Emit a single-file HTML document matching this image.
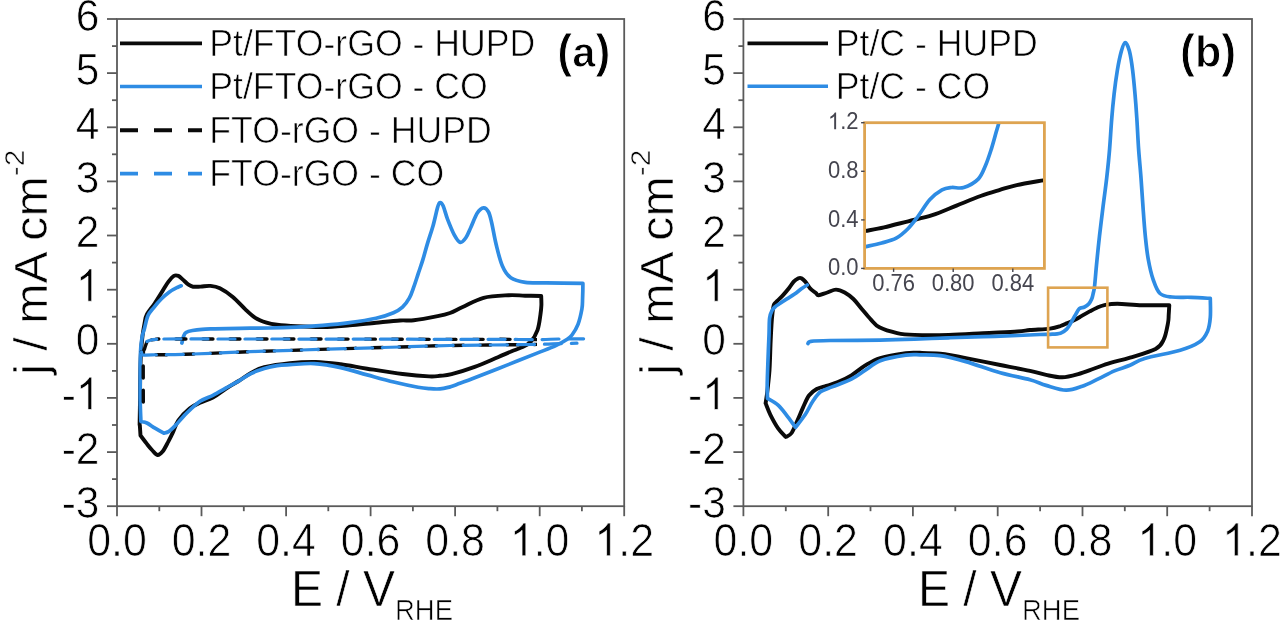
<!DOCTYPE html>
<html><head><meta charset="utf-8"><title>CV</title>
<style>html,body{margin:0;padding:0;background:#fff;}svg{display:block;filter:blur(0.45px);font-family:"Liberation Sans",sans-serif;}</style>
</head><body>
<svg width="1280" height="622" viewBox="0 0 1280 622">
<rect width="1280" height="622" fill="#fff"/>
<rect x="117.0" y="19.0" width="507.2" height="487.2" fill="none" stroke="#5a5a5a" stroke-width="1.8"/>
<line x1="107.0" y1="506.2" x2="117.0" y2="506.2" stroke="#5a5a5a" stroke-width="1.8"/>
<line x1="112.0" y1="479.1" x2="117.0" y2="479.1" stroke="#5a5a5a" stroke-width="1.8"/>
<line x1="107.0" y1="452.1" x2="117.0" y2="452.1" stroke="#5a5a5a" stroke-width="1.8"/>
<line x1="112.0" y1="425.0" x2="117.0" y2="425.0" stroke="#5a5a5a" stroke-width="1.8"/>
<line x1="107.0" y1="397.9" x2="117.0" y2="397.9" stroke="#5a5a5a" stroke-width="1.8"/>
<line x1="112.0" y1="370.9" x2="117.0" y2="370.9" stroke="#5a5a5a" stroke-width="1.8"/>
<line x1="107.0" y1="343.8" x2="117.0" y2="343.8" stroke="#5a5a5a" stroke-width="1.8"/>
<line x1="112.0" y1="316.7" x2="117.0" y2="316.7" stroke="#5a5a5a" stroke-width="1.8"/>
<line x1="107.0" y1="289.7" x2="117.0" y2="289.7" stroke="#5a5a5a" stroke-width="1.8"/>
<line x1="112.0" y1="262.6" x2="117.0" y2="262.6" stroke="#5a5a5a" stroke-width="1.8"/>
<line x1="107.0" y1="235.5" x2="117.0" y2="235.5" stroke="#5a5a5a" stroke-width="1.8"/>
<line x1="112.0" y1="208.5" x2="117.0" y2="208.5" stroke="#5a5a5a" stroke-width="1.8"/>
<line x1="107.0" y1="181.4" x2="117.0" y2="181.4" stroke="#5a5a5a" stroke-width="1.8"/>
<line x1="112.0" y1="154.3" x2="117.0" y2="154.3" stroke="#5a5a5a" stroke-width="1.8"/>
<line x1="107.0" y1="127.3" x2="117.0" y2="127.3" stroke="#5a5a5a" stroke-width="1.8"/>
<line x1="112.0" y1="100.2" x2="117.0" y2="100.2" stroke="#5a5a5a" stroke-width="1.8"/>
<line x1="107.0" y1="73.1" x2="117.0" y2="73.1" stroke="#5a5a5a" stroke-width="1.8"/>
<line x1="112.0" y1="46.1" x2="117.0" y2="46.1" stroke="#5a5a5a" stroke-width="1.8"/>
<line x1="107.0" y1="19.0" x2="117.0" y2="19.0" stroke="#5a5a5a" stroke-width="1.8"/>
<line x1="117.0" y1="506.2" x2="117.0" y2="516.2" stroke="#5a5a5a" stroke-width="1.8"/>
<line x1="159.3" y1="506.2" x2="159.3" y2="511.2" stroke="#5a5a5a" stroke-width="1.8"/>
<line x1="201.5" y1="506.2" x2="201.5" y2="516.2" stroke="#5a5a5a" stroke-width="1.8"/>
<line x1="243.8" y1="506.2" x2="243.8" y2="511.2" stroke="#5a5a5a" stroke-width="1.8"/>
<line x1="286.1" y1="506.2" x2="286.1" y2="516.2" stroke="#5a5a5a" stroke-width="1.8"/>
<line x1="328.3" y1="506.2" x2="328.3" y2="511.2" stroke="#5a5a5a" stroke-width="1.8"/>
<line x1="370.6" y1="506.2" x2="370.6" y2="516.2" stroke="#5a5a5a" stroke-width="1.8"/>
<line x1="412.9" y1="506.2" x2="412.9" y2="511.2" stroke="#5a5a5a" stroke-width="1.8"/>
<line x1="455.1" y1="506.2" x2="455.1" y2="516.2" stroke="#5a5a5a" stroke-width="1.8"/>
<line x1="497.4" y1="506.2" x2="497.4" y2="511.2" stroke="#5a5a5a" stroke-width="1.8"/>
<line x1="539.7" y1="506.2" x2="539.7" y2="516.2" stroke="#5a5a5a" stroke-width="1.8"/>
<line x1="581.9" y1="506.2" x2="581.9" y2="511.2" stroke="#5a5a5a" stroke-width="1.8"/>
<line x1="624.2" y1="506.2" x2="624.2" y2="516.2" stroke="#5a5a5a" stroke-width="1.8"/>
<g transform="translate(99.50,517.80) scale(1.000,1.060)"><text x="-37.79" y="0" font-size="42.50" font-family="Liberation Sans, sans-serif" fill="#000" stroke="#fff" stroke-width="0.70">-3</text></g>
<g transform="translate(99.50,463.67) scale(1.000,1.060)"><text x="-37.79" y="0" font-size="42.50" font-family="Liberation Sans, sans-serif" fill="#000" stroke="#fff" stroke-width="0.70">-2</text></g>
<g transform="translate(99.50,409.53) scale(1.000,1.060)"><text x="-37.79" y="0" font-size="42.50" font-family="Liberation Sans, sans-serif" fill="#000" stroke="#fff" stroke-width="0.70">- </text><path transform="translate(-23.64,0) scale(0.02075,-0.02075)" d="M763 0L583 0L583 1147Q518 1085 412.5 1023Q307 961 223 930L223 1104Q374 1175 487 1276Q600 1377 647 1472L763 1472Z" fill="#000" stroke="#fff" stroke-width="0.70" vector-effect="non-scaling-stroke"/></g>
<g transform="translate(99.50,355.40) scale(1.000,1.060)"><text x="-23.64" y="0" font-size="42.50" font-family="Liberation Sans, sans-serif" fill="#000" stroke="#fff" stroke-width="0.70">0</text></g>
<g transform="translate(99.50,301.27) scale(1.000,1.060)"><text x="-23.64" y="0" font-size="42.50" font-family="Liberation Sans, sans-serif" fill="#000" stroke="#fff" stroke-width="0.70"> </text><path transform="translate(-23.64,0) scale(0.02075,-0.02075)" d="M763 0L583 0L583 1147Q518 1085 412.5 1023Q307 961 223 930L223 1104Q374 1175 487 1276Q600 1377 647 1472L763 1472Z" fill="#000" stroke="#fff" stroke-width="0.70" vector-effect="non-scaling-stroke"/></g>
<g transform="translate(99.50,247.13) scale(1.000,1.060)"><text x="-23.64" y="0" font-size="42.50" font-family="Liberation Sans, sans-serif" fill="#000" stroke="#fff" stroke-width="0.70">2</text></g>
<g transform="translate(99.50,193.00) scale(1.000,1.060)"><text x="-23.64" y="0" font-size="42.50" font-family="Liberation Sans, sans-serif" fill="#000" stroke="#fff" stroke-width="0.70">3</text></g>
<g transform="translate(99.50,138.87) scale(1.000,1.060)"><text x="-23.64" y="0" font-size="42.50" font-family="Liberation Sans, sans-serif" fill="#000" stroke="#fff" stroke-width="0.70">4</text></g>
<g transform="translate(99.50,84.73) scale(1.000,1.060)"><text x="-23.64" y="0" font-size="42.50" font-family="Liberation Sans, sans-serif" fill="#000" stroke="#fff" stroke-width="0.70">5</text></g>
<g transform="translate(99.50,30.60) scale(1.000,1.060)"><text x="-23.64" y="0" font-size="42.50" font-family="Liberation Sans, sans-serif" fill="#000" stroke="#fff" stroke-width="0.70">6</text></g>
<g transform="translate(117.00,555.80) scale(1.010,1.070)"><text x="-29.54" y="0" font-size="42.50" font-family="Liberation Sans, sans-serif" fill="#000" stroke="#fff" stroke-width="0.70">0.0</text></g>
<g transform="translate(201.53,555.80) scale(1.010,1.070)"><text x="-29.54" y="0" font-size="42.50" font-family="Liberation Sans, sans-serif" fill="#000" stroke="#fff" stroke-width="0.70">0.2</text></g>
<g transform="translate(286.07,555.80) scale(1.010,1.070)"><text x="-29.54" y="0" font-size="42.50" font-family="Liberation Sans, sans-serif" fill="#000" stroke="#fff" stroke-width="0.70">0.4</text></g>
<g transform="translate(370.60,555.80) scale(1.010,1.070)"><text x="-29.54" y="0" font-size="42.50" font-family="Liberation Sans, sans-serif" fill="#000" stroke="#fff" stroke-width="0.70">0.6</text></g>
<g transform="translate(455.13,555.80) scale(1.010,1.070)"><text x="-29.54" y="0" font-size="42.50" font-family="Liberation Sans, sans-serif" fill="#000" stroke="#fff" stroke-width="0.70">0.8</text></g>
<g transform="translate(539.67,555.80) scale(1.010,1.070)"><text x="-29.54" y="0" font-size="42.50" font-family="Liberation Sans, sans-serif" fill="#000" stroke="#fff" stroke-width="0.70"> .0</text><path transform="translate(-29.54,0) scale(0.02075,-0.02075)" d="M763 0L583 0L583 1147Q518 1085 412.5 1023Q307 961 223 930L223 1104Q374 1175 487 1276Q600 1377 647 1472L763 1472Z" fill="#000" stroke="#fff" stroke-width="0.70" vector-effect="non-scaling-stroke"/></g>
<g transform="translate(624.20,555.80) scale(1.010,1.070)"><text x="-29.54" y="0" font-size="42.50" font-family="Liberation Sans, sans-serif" fill="#000" stroke="#fff" stroke-width="0.70"> .2</text><path transform="translate(-29.54,0) scale(0.02075,-0.02075)" d="M763 0L583 0L583 1147Q518 1085 412.5 1023Q307 961 223 930L223 1104Q374 1175 487 1276Q600 1377 647 1472L763 1472Z" fill="#000" stroke="#fff" stroke-width="0.70" vector-effect="non-scaling-stroke"/></g>
<text transform="translate(46.5,374.8) rotate(-90) scale(1.05,1)" font-size="46" font-family="Liberation Sans, sans-serif" fill="#000" stroke="#fff" stroke-width="0.6">j / mA cm<tspan font-size="28.5" dy="-22.5">-2</tspan></text>
<text transform="translate(291.0,605.8) scale(1,1.04)" font-size="48" font-family="Liberation Sans, sans-serif" fill="#000" stroke="#fff" stroke-width="0.6">E / V<tspan font-size="27.5" dy="13.2">RHE</tspan></text>
<path d="M139.6,425.0 C139.7,420.8 139.9,408.8 140.0,400.0 C140.1,391.2 140.1,380.0 140.3,372.0 C140.5,364.0 140.6,358.0 141.0,352.0 C141.4,346.0 141.9,340.8 142.5,336.0 C143.1,331.2 143.9,326.6 144.6,323.0 C145.3,319.4 145.2,317.8 146.9,314.5 C148.6,311.2 152.2,307.2 154.8,303.3 C157.4,299.4 160.3,294.5 162.6,290.9 C164.8,287.3 166.4,284.4 168.3,281.9 C170.2,279.4 172.2,276.9 173.9,275.9 C175.6,274.9 176.9,275.3 178.4,275.9 C179.9,276.5 181.2,278.1 182.9,279.6 C184.6,281.1 186.8,283.5 188.5,284.7 C190.2,285.9 191.0,286.4 193.0,286.7 C195.0,287.0 197.7,286.7 200.6,286.6 C203.5,286.5 207.0,285.6 210.2,285.9 C213.4,286.2 216.1,286.4 219.9,288.3 C223.7,290.2 228.5,293.4 232.8,297.0 C237.1,300.6 241.8,306.1 245.6,309.6 C249.3,313.1 251.8,315.6 255.3,317.8 C258.8,320.0 262.9,321.4 266.5,322.6 C270.1,323.8 272.0,324.2 277.0,324.8 C282.0,325.4 288.8,325.9 296.5,326.3 C304.2,326.7 314.1,327.2 323.0,327.1 C331.9,327.0 340.8,326.1 349.6,325.4 C358.4,324.7 367.6,323.5 376.0,322.7 C384.4,321.9 393.7,320.9 400.0,320.5 C406.3,320.1 407.5,321.0 413.8,320.3 C420.1,319.6 431.6,317.4 437.6,316.2 C443.6,315.0 445.8,314.5 450.0,313.0 C454.2,311.5 457.1,309.5 462.7,307.0 C468.3,304.5 475.9,299.8 483.6,297.8 C491.3,295.8 501.8,295.6 508.7,295.2 C515.6,294.8 519.6,295.6 525.0,295.7 C530.4,295.8 538.5,295.9 541.2,296.0 C541.2,297.5 541.5,301.8 541.4,305.0 C541.3,308.2 541.0,310.8 540.4,315.0 C539.8,319.2 539.1,325.7 537.5,330.2 C535.9,334.7 533.4,338.9 530.7,341.8 C528.0,344.7 524.3,346.0 521.1,347.6 C517.9,349.2 515.6,349.7 511.7,351.3 C507.8,352.9 504.1,354.6 497.9,357.2 C491.7,359.8 482.4,364.1 474.7,366.9 C467.0,369.7 457.4,372.7 451.6,374.2 C445.8,375.7 443.8,375.4 440.0,375.8 C436.2,376.2 435.3,376.7 429.1,376.4 C422.9,376.1 412.9,375.3 402.6,374.0 C392.3,372.7 377.5,370.3 367.2,368.7 C356.9,367.1 349.3,365.4 340.7,364.3 C332.1,363.2 324.1,362.1 315.7,361.9 C307.2,361.7 298.6,362.2 290.0,363.1 C281.4,364.0 270.8,365.6 264.3,367.2 C257.8,368.8 255.3,370.7 251.0,373.0 C246.7,375.3 242.8,378.4 238.6,381.0 C234.4,383.6 230.0,386.0 225.7,388.8 C221.4,391.6 217.2,395.3 212.9,397.6 C208.6,399.9 203.9,401.0 200.0,402.8 C196.1,404.6 193.2,405.5 189.6,408.4 C186.0,411.3 181.2,416.3 178.4,420.3 C175.6,424.3 174.5,429.1 172.8,432.6 C171.1,436.2 170.0,438.4 168.3,441.6 C166.6,444.8 164.4,449.4 162.6,451.6 C160.8,453.8 159.3,455.3 157.5,455.0 C155.7,454.7 153.8,451.9 152.0,450.0 C150.2,448.1 148.8,446.3 146.9,443.9 C145.0,441.5 141.6,436.9 140.5,435.5 C140.4,433.8 139.9,426.8 139.8,425.0" fill="none" stroke="#0a0a0a" stroke-width="3.90" stroke-linejoin="round" stroke-linecap="round" />
<path d="M181.9,343.0 C182.2,341.9 182.8,338.2 183.5,336.5 C184.2,334.8 184.5,333.5 186.0,332.5 C187.5,331.5 189.8,331.0 192.5,330.5 C195.2,330.0 198.3,329.6 202.1,329.3 C205.8,329.0 208.7,329.0 215.0,328.8 C221.3,328.6 230.8,328.4 240.0,328.3 C249.2,328.2 260.6,328.2 270.0,328.0 C279.4,327.8 287.7,327.5 296.5,327.1 C305.3,326.7 314.1,326.1 323.0,325.4 C331.9,324.7 340.8,323.9 349.6,322.7 C358.4,321.5 368.7,319.9 376.0,318.3 C383.3,316.7 389.1,314.7 393.5,312.8 C397.9,310.9 399.9,309.6 402.5,307.2 C405.1,304.8 407.4,301.6 409.3,298.2 C411.2,294.8 412.3,291.0 413.8,286.9 C415.3,282.8 416.8,277.9 418.3,273.4 C419.8,268.9 421.3,264.8 422.8,259.9 C424.3,255.0 425.6,249.8 427.3,244.1 C429.0,238.4 431.3,231.9 433.0,226.0 C434.7,220.1 436.2,212.4 437.3,208.5 C438.4,204.6 438.7,203.0 439.7,202.6 C440.7,202.2 441.8,203.0 443.1,205.8 C444.4,208.6 445.7,214.4 447.6,219.3 C449.5,224.2 452.3,231.2 454.4,235.1 C456.5,238.9 458.4,242.0 460.3,242.4 C462.2,242.8 464.2,240.1 466.0,237.5 C467.8,234.9 469.1,231.1 471.0,227.0 C472.9,222.9 475.2,216.2 477.3,213.0 C479.4,209.8 481.7,208.0 483.6,207.8 C485.5,207.6 487.2,209.6 488.5,212.0 C489.8,214.4 490.2,216.6 491.5,222.0 C492.8,227.4 494.3,237.0 496.1,244.3 C497.9,251.6 499.9,260.4 502.4,266.0 C504.8,271.6 507.0,275.1 510.8,277.8 C514.6,280.5 519.5,281.5 525.4,282.4 C531.3,283.2 536.7,282.7 546.3,282.9 C555.9,283.1 576.8,283.3 582.9,283.4 C582.9,285.8 582.8,293.7 582.6,298.0 C582.4,302.3 582.7,304.6 581.9,309.0 C581.1,313.4 579.6,320.1 578.0,324.4 C576.4,328.7 573.9,332.4 572.0,335.0 C570.1,337.6 569.1,338.0 566.4,339.8 C563.7,341.6 560.8,343.3 555.8,345.6 C550.8,347.9 544.5,350.2 536.5,353.4 C528.5,356.6 517.2,361.1 507.6,364.9 C498.0,368.7 486.5,373.2 478.6,376.3 C470.7,379.4 465.1,381.5 460.0,383.3 C454.9,385.1 451.3,386.5 448.0,387.4 C444.7,388.3 443.0,388.7 440.0,388.9 C437.0,389.1 433.7,389.0 430.0,388.7 C426.3,388.4 424.0,388.3 418.0,387.2 C412.0,386.1 402.3,384.1 393.8,382.0 C385.3,379.9 376.1,377.3 367.2,374.9 C358.3,372.5 349.5,369.5 340.7,367.6 C331.9,365.7 322.6,364.1 314.2,363.6 C305.8,363.1 296.2,364.4 290.0,364.7 C283.8,365.0 281.4,365.0 277.1,365.7 C272.8,366.4 268.6,367.3 264.3,368.6 C260.0,369.9 255.7,371.3 251.4,373.4 C247.1,375.5 242.9,378.6 238.6,381.1 C234.3,383.6 230.0,385.8 225.7,388.2 C221.4,390.6 217.2,393.1 212.9,395.3 C208.6,397.5 204.4,398.3 200.0,401.3 C195.6,404.3 190.5,409.4 186.3,413.5 C182.1,417.6 178.0,422.9 175.0,425.9 C172.0,428.9 170.4,430.4 168.5,431.6 C166.6,432.8 164.6,432.9 163.8,433.2 C162.3,432.4 157.8,429.9 155.0,428.2 C152.2,426.5 149.2,424.1 146.9,423.0 C144.6,421.9 141.9,421.8 140.9,421.5 C140.8,417.9 140.3,408.6 140.2,400.0 C140.1,391.4 140.2,377.2 140.2,370.0 C140.2,362.8 140.3,360.8 140.4,357.0 C140.5,353.2 140.5,351.0 140.8,347.5 C141.1,344.0 141.7,339.2 142.3,336.0 C142.9,332.8 143.7,331.4 144.6,328.0 C145.5,324.6 146.5,319.0 148.0,315.6 C149.5,312.2 151.3,310.6 153.6,307.8 C155.8,305.0 158.9,301.4 161.5,298.8 C164.1,296.2 166.8,293.9 169.4,292.0 C172.0,290.1 175.3,288.5 177.3,287.5 C179.3,286.5 180.5,286.1 181.2,285.8" fill="none" stroke="#2e8ce4" stroke-width="3.70" stroke-linejoin="round" stroke-linecap="round" />
<path d="M143.3,402.0 C143.3,394.3 143.1,364.8 143.3,356.0 C143.5,347.2 143.9,351.4 144.5,349.0 C145.1,346.6 146.6,342.8 147.0,341.5" fill="none" stroke="#0a0a0a" stroke-width="3.40" stroke-linejoin="round" stroke-linecap="round" stroke-dasharray="12 12" stroke-linecap="butt"/>
<clipPath id="bk"><rect x="100" y="300" width="437" height="120"/></clipPath>
<g clip-path="url(#bk)">
<path d="M147.0,341.5 C147.7,341.2 149.3,340.4 151.0,340.0 C152.7,339.6 154.7,339.5 157.0,339.3 C159.3,339.1 149.5,339.1 165.0,339.0 C180.5,338.9 210.8,339.0 250.0,339.0 C289.2,339.0 366.7,339.1 400.0,339.2 C433.3,339.3 433.3,339.4 450.0,339.4 C466.7,339.4 485.7,339.3 500.0,339.3 C514.3,339.3 526.0,339.7 536.0,339.6 C546.0,339.6 552.1,339.1 560.0,339.0 C567.9,338.9 579.7,338.8 583.6,338.8" fill="none" stroke="#0a0a0a" stroke-width="3.40" stroke-linejoin="round" stroke-linecap="round" stroke-dasharray="10 17" stroke-dashoffset="-5" stroke-linecap="butt"/>
<path d="M141.5,352.0 C141.8,352.5 141.2,354.5 143.0,355.0 C144.8,355.5 145.0,354.9 152.0,354.8 C159.0,354.7 168.7,354.8 185.0,354.3 C201.3,353.8 227.5,352.5 250.0,351.7 C272.5,350.9 295.0,350.2 320.0,349.4 C345.0,348.6 378.3,347.6 400.0,347.0 C421.7,346.4 428.2,345.9 450.0,345.5 C471.8,345.1 512.7,344.8 531.0,344.5 C549.3,344.2 552.3,343.8 560.0,343.6 C567.7,343.4 574.2,343.3 577.0,343.2" fill="none" stroke="#0a0a0a" stroke-width="3.40" stroke-linejoin="round" stroke-linecap="round" stroke-dasharray="11 16" stroke-dashoffset="-16.5" stroke-linecap="butt"/>
</g>
<path d="M147.0,341.5 C147.7,341.2 149.3,340.4 151.0,340.0 C152.7,339.6 154.7,339.5 157.0,339.3 C159.3,339.1 149.5,339.1 165.0,339.0 C180.5,338.9 210.8,339.0 250.0,339.0 C289.2,339.0 366.7,339.1 400.0,339.2 C433.3,339.3 433.3,339.4 450.0,339.4 C466.7,339.4 485.7,339.3 500.0,339.3 C514.3,339.3 526.0,339.7 536.0,339.6 C546.0,339.6 552.1,339.1 560.0,339.0 C567.9,338.9 579.7,338.8 583.6,338.8" fill="none" stroke="#2e8ce4" stroke-width="3.20" stroke-linejoin="round" stroke-linecap="round" stroke-dasharray="17 10" stroke-dashoffset="-20" stroke-linecap="butt"/>
<path d="M141.5,352.0 C141.8,352.5 141.2,354.5 143.0,355.0 C144.8,355.5 145.0,354.9 152.0,354.8 C159.0,354.7 168.7,354.8 185.0,354.3 C201.3,353.8 227.5,352.5 250.0,351.7 C272.5,350.9 295.0,350.2 320.0,349.4 C345.0,348.6 378.3,347.6 400.0,347.0 C421.7,346.4 428.2,345.9 450.0,345.5 C471.8,345.1 512.7,344.8 531.0,344.5 C549.3,344.2 552.3,343.8 560.0,343.6 C567.7,343.4 574.2,343.3 577.0,343.2" fill="none" stroke="#2e8ce4" stroke-width="3.20" stroke-linejoin="round" stroke-linecap="round" stroke-dasharray="17 10" stroke-linecap="butt"/>
<line x1="120" y1="43.4" x2="202" y2="43.4" stroke="#0a0a0a" stroke-width="3.7"/>
<line x1="120" y1="86.5" x2="202" y2="86.5" stroke="#2e8ce4" stroke-width="3.6"/>
<line x1="120" y1="130.3" x2="202" y2="130.3" stroke="#0a0a0a" stroke-width="4" stroke-dasharray="18 16"/>
<line x1="120" y1="173.6" x2="202" y2="173.6" stroke="#2e8ce4" stroke-width="3.6" stroke-dasharray="18 16"/>
<text transform="translate(209.3,56.1) scale(0.99,1.03)" font-size="36" font-family="Liberation Sans, sans-serif" fill="#000" stroke="#fff" stroke-width="0.7">Pt/FTO-rGO - HUPD</text>
<text transform="translate(209.3,99.4) scale(0.99,1.03)" font-size="36" font-family="Liberation Sans, sans-serif" fill="#000" stroke="#fff" stroke-width="0.7">Pt/FTO-rGO - CO</text>
<text transform="translate(209.3,142.7) scale(0.99,1.03)" font-size="36" font-family="Liberation Sans, sans-serif" fill="#000" stroke="#fff" stroke-width="0.7">FTO-rGO - HUPD</text>
<text transform="translate(209.3,186.0) scale(0.99,1.03)" font-size="36" font-family="Liberation Sans, sans-serif" fill="#000" stroke="#fff" stroke-width="0.7">FTO-rGO - CO</text>
<text transform="translate(557.3,67) scale(1.03,1.05)" font-size="43.5" font-weight="bold" font-family="Liberation Sans, sans-serif" fill="#000" stroke="#fff" stroke-width="0.9">(<tspan font-size="40.5">a</tspan>)</text>
<rect x="743.4" y="19.0" width="508.6" height="487.2" fill="none" stroke="#5a5a5a" stroke-width="1.8"/>
<line x1="733.4" y1="506.2" x2="743.4" y2="506.2" stroke="#5a5a5a" stroke-width="1.8"/>
<line x1="738.4" y1="479.1" x2="743.4" y2="479.1" stroke="#5a5a5a" stroke-width="1.8"/>
<line x1="733.4" y1="452.1" x2="743.4" y2="452.1" stroke="#5a5a5a" stroke-width="1.8"/>
<line x1="738.4" y1="425.0" x2="743.4" y2="425.0" stroke="#5a5a5a" stroke-width="1.8"/>
<line x1="733.4" y1="397.9" x2="743.4" y2="397.9" stroke="#5a5a5a" stroke-width="1.8"/>
<line x1="738.4" y1="370.9" x2="743.4" y2="370.9" stroke="#5a5a5a" stroke-width="1.8"/>
<line x1="733.4" y1="343.8" x2="743.4" y2="343.8" stroke="#5a5a5a" stroke-width="1.8"/>
<line x1="738.4" y1="316.7" x2="743.4" y2="316.7" stroke="#5a5a5a" stroke-width="1.8"/>
<line x1="733.4" y1="289.7" x2="743.4" y2="289.7" stroke="#5a5a5a" stroke-width="1.8"/>
<line x1="738.4" y1="262.6" x2="743.4" y2="262.6" stroke="#5a5a5a" stroke-width="1.8"/>
<line x1="733.4" y1="235.5" x2="743.4" y2="235.5" stroke="#5a5a5a" stroke-width="1.8"/>
<line x1="738.4" y1="208.5" x2="743.4" y2="208.5" stroke="#5a5a5a" stroke-width="1.8"/>
<line x1="733.4" y1="181.4" x2="743.4" y2="181.4" stroke="#5a5a5a" stroke-width="1.8"/>
<line x1="738.4" y1="154.3" x2="743.4" y2="154.3" stroke="#5a5a5a" stroke-width="1.8"/>
<line x1="733.4" y1="127.3" x2="743.4" y2="127.3" stroke="#5a5a5a" stroke-width="1.8"/>
<line x1="738.4" y1="100.2" x2="743.4" y2="100.2" stroke="#5a5a5a" stroke-width="1.8"/>
<line x1="733.4" y1="73.1" x2="743.4" y2="73.1" stroke="#5a5a5a" stroke-width="1.8"/>
<line x1="738.4" y1="46.1" x2="743.4" y2="46.1" stroke="#5a5a5a" stroke-width="1.8"/>
<line x1="733.4" y1="19.0" x2="743.4" y2="19.0" stroke="#5a5a5a" stroke-width="1.8"/>
<line x1="743.4" y1="506.2" x2="743.4" y2="516.2" stroke="#5a5a5a" stroke-width="1.8"/>
<line x1="785.8" y1="506.2" x2="785.8" y2="511.2" stroke="#5a5a5a" stroke-width="1.8"/>
<line x1="828.2" y1="506.2" x2="828.2" y2="516.2" stroke="#5a5a5a" stroke-width="1.8"/>
<line x1="870.5" y1="506.2" x2="870.5" y2="511.2" stroke="#5a5a5a" stroke-width="1.8"/>
<line x1="912.9" y1="506.2" x2="912.9" y2="516.2" stroke="#5a5a5a" stroke-width="1.8"/>
<line x1="955.3" y1="506.2" x2="955.3" y2="511.2" stroke="#5a5a5a" stroke-width="1.8"/>
<line x1="997.7" y1="506.2" x2="997.7" y2="516.2" stroke="#5a5a5a" stroke-width="1.8"/>
<line x1="1040.1" y1="506.2" x2="1040.1" y2="511.2" stroke="#5a5a5a" stroke-width="1.8"/>
<line x1="1082.5" y1="506.2" x2="1082.5" y2="516.2" stroke="#5a5a5a" stroke-width="1.8"/>
<line x1="1124.8" y1="506.2" x2="1124.8" y2="511.2" stroke="#5a5a5a" stroke-width="1.8"/>
<line x1="1167.2" y1="506.2" x2="1167.2" y2="516.2" stroke="#5a5a5a" stroke-width="1.8"/>
<line x1="1209.6" y1="506.2" x2="1209.6" y2="511.2" stroke="#5a5a5a" stroke-width="1.8"/>
<line x1="1252.0" y1="506.2" x2="1252.0" y2="516.2" stroke="#5a5a5a" stroke-width="1.8"/>
<g transform="translate(725.90,517.80) scale(1.000,1.060)"><text x="-37.79" y="0" font-size="42.50" font-family="Liberation Sans, sans-serif" fill="#000" stroke="#fff" stroke-width="0.70">-3</text></g>
<g transform="translate(725.90,463.67) scale(1.000,1.060)"><text x="-37.79" y="0" font-size="42.50" font-family="Liberation Sans, sans-serif" fill="#000" stroke="#fff" stroke-width="0.70">-2</text></g>
<g transform="translate(725.90,409.53) scale(1.000,1.060)"><text x="-37.79" y="0" font-size="42.50" font-family="Liberation Sans, sans-serif" fill="#000" stroke="#fff" stroke-width="0.70">- </text><path transform="translate(-23.64,0) scale(0.02075,-0.02075)" d="M763 0L583 0L583 1147Q518 1085 412.5 1023Q307 961 223 930L223 1104Q374 1175 487 1276Q600 1377 647 1472L763 1472Z" fill="#000" stroke="#fff" stroke-width="0.70" vector-effect="non-scaling-stroke"/></g>
<g transform="translate(725.90,355.40) scale(1.000,1.060)"><text x="-23.64" y="0" font-size="42.50" font-family="Liberation Sans, sans-serif" fill="#000" stroke="#fff" stroke-width="0.70">0</text></g>
<g transform="translate(725.90,301.27) scale(1.000,1.060)"><text x="-23.64" y="0" font-size="42.50" font-family="Liberation Sans, sans-serif" fill="#000" stroke="#fff" stroke-width="0.70"> </text><path transform="translate(-23.64,0) scale(0.02075,-0.02075)" d="M763 0L583 0L583 1147Q518 1085 412.5 1023Q307 961 223 930L223 1104Q374 1175 487 1276Q600 1377 647 1472L763 1472Z" fill="#000" stroke="#fff" stroke-width="0.70" vector-effect="non-scaling-stroke"/></g>
<g transform="translate(725.90,247.13) scale(1.000,1.060)"><text x="-23.64" y="0" font-size="42.50" font-family="Liberation Sans, sans-serif" fill="#000" stroke="#fff" stroke-width="0.70">2</text></g>
<g transform="translate(725.90,193.00) scale(1.000,1.060)"><text x="-23.64" y="0" font-size="42.50" font-family="Liberation Sans, sans-serif" fill="#000" stroke="#fff" stroke-width="0.70">3</text></g>
<g transform="translate(725.90,138.87) scale(1.000,1.060)"><text x="-23.64" y="0" font-size="42.50" font-family="Liberation Sans, sans-serif" fill="#000" stroke="#fff" stroke-width="0.70">4</text></g>
<g transform="translate(725.90,84.73) scale(1.000,1.060)"><text x="-23.64" y="0" font-size="42.50" font-family="Liberation Sans, sans-serif" fill="#000" stroke="#fff" stroke-width="0.70">5</text></g>
<g transform="translate(725.90,30.60) scale(1.000,1.060)"><text x="-23.64" y="0" font-size="42.50" font-family="Liberation Sans, sans-serif" fill="#000" stroke="#fff" stroke-width="0.70">6</text></g>
<g transform="translate(743.40,555.80) scale(1.010,1.070)"><text x="-29.54" y="0" font-size="42.50" font-family="Liberation Sans, sans-serif" fill="#000" stroke="#fff" stroke-width="0.70">0.0</text></g>
<g transform="translate(828.17,555.80) scale(1.010,1.070)"><text x="-29.54" y="0" font-size="42.50" font-family="Liberation Sans, sans-serif" fill="#000" stroke="#fff" stroke-width="0.70">0.2</text></g>
<g transform="translate(912.93,555.80) scale(1.010,1.070)"><text x="-29.54" y="0" font-size="42.50" font-family="Liberation Sans, sans-serif" fill="#000" stroke="#fff" stroke-width="0.70">0.4</text></g>
<g transform="translate(997.70,555.80) scale(1.010,1.070)"><text x="-29.54" y="0" font-size="42.50" font-family="Liberation Sans, sans-serif" fill="#000" stroke="#fff" stroke-width="0.70">0.6</text></g>
<g transform="translate(1082.47,555.80) scale(1.010,1.070)"><text x="-29.54" y="0" font-size="42.50" font-family="Liberation Sans, sans-serif" fill="#000" stroke="#fff" stroke-width="0.70">0.8</text></g>
<g transform="translate(1167.23,555.80) scale(1.010,1.070)"><text x="-29.54" y="0" font-size="42.50" font-family="Liberation Sans, sans-serif" fill="#000" stroke="#fff" stroke-width="0.70"> .0</text><path transform="translate(-29.54,0) scale(0.02075,-0.02075)" d="M763 0L583 0L583 1147Q518 1085 412.5 1023Q307 961 223 930L223 1104Q374 1175 487 1276Q600 1377 647 1472L763 1472Z" fill="#000" stroke="#fff" stroke-width="0.70" vector-effect="non-scaling-stroke"/></g>
<g transform="translate(1252.00,555.80) scale(1.010,1.070)"><text x="-29.54" y="0" font-size="42.50" font-family="Liberation Sans, sans-serif" fill="#000" stroke="#fff" stroke-width="0.70"> .2</text><path transform="translate(-29.54,0) scale(0.02075,-0.02075)" d="M763 0L583 0L583 1147Q518 1085 412.5 1023Q307 961 223 930L223 1104Q374 1175 487 1276Q600 1377 647 1472L763 1472Z" fill="#000" stroke="#fff" stroke-width="0.70" vector-effect="non-scaling-stroke"/></g>
<text transform="translate(672.5,374.8) rotate(-90) scale(1.05,1)" font-size="46" font-family="Liberation Sans, sans-serif" fill="#000" stroke="#fff" stroke-width="0.6">j / mA cm<tspan font-size="28.5" dy="-22.5">-2</tspan></text>
<text transform="translate(918.0,605.8) scale(1,1.04)" font-size="48" font-family="Liberation Sans, sans-serif" fill="#000" stroke="#fff" stroke-width="0.6">E / V<tspan font-size="27.5" dy="13.2">RHE</tspan></text>
<path d="M765.6,403.3 C765.9,401.1 766.9,395.6 767.5,390.0 C768.1,384.4 769.0,377.5 769.5,370.0 C770.0,362.5 770.2,352.5 770.5,345.0 C770.8,337.5 771.2,330.3 771.5,325.0 C771.8,319.7 772.1,316.4 772.5,313.0 C772.9,309.6 773.2,306.5 774.0,304.5 C774.8,302.5 775.8,302.5 777.3,300.9 C778.8,299.3 781.2,297.2 783.1,295.1 C785.0,293.0 787.1,290.6 788.9,288.3 C790.7,286.1 792.1,283.3 793.7,281.6 C795.3,279.9 797.2,278.8 798.5,278.2 C799.8,277.6 800.3,277.6 801.4,278.2 C802.5,278.8 803.8,279.9 805.3,281.6 C806.8,283.3 808.3,286.4 810.1,288.3 C811.9,290.2 814.5,291.9 815.9,293.1 C817.3,294.3 816.7,295.4 818.6,295.3 C820.5,295.2 824.4,293.4 827.3,292.5 C830.2,291.6 833.1,289.6 836.0,289.6 C838.9,289.6 841.8,290.9 844.7,292.5 C847.6,294.1 850.5,296.2 853.4,299.0 C856.3,301.8 859.1,305.8 862.0,309.2 C864.9,312.6 867.8,316.3 870.7,319.3 C873.6,322.3 875.0,325.0 879.4,327.3 C883.8,329.6 891.4,331.8 897.2,333.1 C903.0,334.4 905.8,334.6 914.4,334.9 C923.0,335.2 937.3,335.2 948.8,334.9 C960.2,334.6 971.6,333.8 983.1,333.2 C994.6,332.6 1009.7,332.0 1017.5,331.5 C1025.3,331.0 1024.6,330.5 1030.0,330.0 C1035.4,329.5 1044.9,329.3 1050.0,328.6 C1055.1,327.9 1057.7,326.9 1060.5,326.0 C1063.3,325.1 1064.5,324.4 1066.7,323.4 C1069.0,322.4 1071.5,321.4 1074.0,320.2 C1076.5,319.0 1078.8,317.6 1081.4,316.1 C1084.0,314.6 1087.1,312.8 1089.7,311.4 C1092.3,310.0 1094.5,308.8 1097.0,307.7 C1099.5,306.6 1101.0,305.8 1104.4,305.1 C1107.8,304.5 1111.0,303.8 1117.3,303.8 C1123.6,303.8 1133.3,305.0 1142.0,305.2 C1150.7,305.4 1164.8,305.2 1169.3,305.2 C1169.2,306.8 1168.9,312.0 1168.7,315.0 C1168.5,318.0 1168.8,318.9 1168.0,323.0 C1167.2,327.1 1165.9,335.1 1163.8,339.4 C1161.7,343.7 1161.2,346.0 1155.6,349.0 C1150.0,352.0 1137.5,355.3 1130.0,357.6 C1122.5,359.9 1116.4,361.1 1110.4,362.9 C1104.5,364.7 1099.7,366.6 1094.3,368.5 C1088.9,370.4 1083.5,372.6 1078.2,374.1 C1072.9,375.6 1067.6,377.2 1062.2,377.3 C1056.8,377.4 1051.5,376.0 1046.1,374.9 C1040.7,373.8 1037.6,372.5 1030.0,370.9 C1022.4,369.2 1011.0,367.1 1000.3,365.0 C989.6,362.9 975.9,360.0 965.9,358.1 C955.9,356.2 947.9,354.7 940.2,353.8 C932.6,352.9 925.7,352.9 920.0,352.8 C914.3,352.7 912.4,352.2 905.8,353.1 C899.2,354.0 887.1,355.9 880.3,358.0 C873.5,360.1 869.7,362.8 864.9,365.7 C860.1,368.6 855.9,372.6 851.4,375.3 C846.9,378.0 842.1,380.3 837.9,382.1 C833.7,383.9 829.8,384.8 826.3,385.9 C822.8,387.0 819.6,387.4 816.7,389.0 C813.8,390.6 811.2,392.5 809.0,395.5 C806.8,398.5 805.1,402.9 803.2,407.1 C801.3,411.3 799.3,416.3 797.4,420.6 C795.5,424.9 793.5,430.3 791.6,433.0 C789.7,435.7 786.8,436.3 785.8,437.0 C784.5,435.6 780.7,432.0 778.1,428.3 C775.5,424.6 772.5,419.0 770.4,414.8 C768.3,410.6 766.4,405.2 765.6,403.3" fill="none" stroke="#0a0a0a" stroke-width="3.90" stroke-linejoin="round" stroke-linecap="round" />
<path d="M808.0,343.5 C808.5,343.1 807.3,341.8 811.0,341.3 C814.7,340.8 818.5,340.7 830.0,340.5 C841.5,340.3 865.9,340.3 880.0,340.1 C894.1,339.9 902.9,339.6 914.4,339.2 C925.9,338.8 937.3,338.2 948.8,337.8 C960.2,337.4 971.6,337.1 983.1,336.7 C994.6,336.3 1008.0,335.9 1017.5,335.5 C1027.0,335.1 1034.6,334.7 1040.0,334.5 C1045.4,334.3 1046.6,334.5 1050.0,334.3 C1053.4,334.1 1057.7,334.1 1060.5,333.2 C1063.3,332.3 1065.0,330.8 1066.7,329.1 C1068.4,327.4 1069.5,325.2 1070.9,322.9 C1072.3,320.6 1073.7,317.9 1075.1,315.5 C1076.5,313.1 1077.7,310.1 1079.3,308.7 C1080.9,307.3 1082.9,307.8 1084.5,307.0 C1086.1,306.2 1087.5,305.4 1088.7,304.0 C1089.9,302.6 1091.0,300.7 1091.8,298.8 C1092.6,296.9 1092.9,294.6 1093.4,292.5 C1093.9,290.4 1094.1,290.6 1094.6,286.0 C1095.1,281.4 1095.7,273.3 1096.5,265.0 C1097.3,256.7 1098.4,245.7 1099.5,236.0 C1100.6,226.3 1101.8,216.7 1103.0,207.0 C1104.2,197.3 1105.6,187.7 1106.7,178.0 C1107.8,168.3 1108.8,159.0 1109.6,149.0 C1110.4,139.0 1111.0,127.2 1111.8,118.0 C1112.5,108.8 1113.2,102.0 1114.1,94.0 C1115.0,86.0 1116.2,77.2 1117.4,70.0 C1118.6,62.8 1120.1,55.6 1121.4,51.0 C1122.7,46.4 1123.9,42.6 1125.2,42.6 C1126.5,42.6 1128.2,46.4 1129.4,51.0 C1130.6,55.6 1131.7,62.8 1132.6,70.0 C1133.5,77.2 1134.3,86.0 1135.0,94.0 C1135.7,102.0 1136.2,108.8 1136.8,118.0 C1137.4,127.2 1137.9,139.0 1138.6,149.0 C1139.3,159.0 1140.3,168.3 1141.0,178.0 C1141.7,187.7 1142.3,197.3 1143.0,207.0 C1143.7,216.7 1144.4,227.3 1145.3,236.0 C1146.2,244.7 1146.9,251.8 1148.2,259.0 C1149.5,266.2 1151.1,273.6 1153.1,279.4 C1155.1,285.1 1156.8,290.6 1160.0,293.5 C1163.2,296.4 1166.8,296.4 1172.0,297.0 C1177.2,297.6 1184.8,297.1 1191.2,297.3 C1197.6,297.5 1207.1,298.2 1210.3,298.4 C1210.3,301.6 1210.8,312.0 1210.3,317.5 C1209.8,323.0 1209.4,327.1 1207.6,331.2 C1205.8,335.3 1204.0,338.9 1199.4,342.1 C1194.8,345.3 1189.3,347.6 1180.2,350.3 C1171.1,353.0 1153.1,356.0 1144.7,358.5 C1136.3,361.0 1135.0,363.2 1130.0,365.3 C1125.0,367.4 1119.7,368.6 1114.4,370.9 C1109.1,373.2 1103.7,376.3 1098.3,378.9 C1092.9,381.4 1087.6,384.3 1082.3,386.2 C1077.0,388.1 1072.2,390.3 1066.2,390.2 C1060.2,390.1 1052.1,387.1 1046.1,385.4 C1040.1,383.6 1037.6,381.8 1030.0,379.7 C1022.4,377.6 1011.0,375.7 1000.3,372.7 C989.6,369.7 975.9,364.5 965.9,361.6 C955.9,358.8 947.9,356.7 940.2,355.6 C932.6,354.5 925.7,354.9 920.0,354.8 C914.3,354.7 912.4,354.2 905.8,355.2 C899.2,356.2 887.1,358.2 880.3,360.8 C873.5,363.4 869.7,367.4 864.9,370.5 C860.1,373.6 856.9,376.5 851.4,379.2 C845.9,381.9 837.2,384.8 832.1,386.9 C827.0,389.0 823.7,389.4 820.5,391.8 C817.3,394.2 815.4,397.5 812.8,401.3 C810.2,405.1 808.0,410.5 805.1,414.8 C802.2,419.1 797.1,425.3 795.5,427.4 C794.2,425.6 790.7,420.5 787.8,416.8 C784.9,413.1 781.5,408.3 778.1,405.2 C774.7,402.1 769.3,399.5 767.5,398.4 C767.5,396.2 767.1,391.4 767.2,385.0 C767.3,378.6 767.7,368.3 768.0,360.0 C768.3,351.7 768.7,342.0 769.0,335.0 C769.3,328.0 769.1,322.3 769.6,318.2 C770.1,314.1 771.0,312.4 772.0,310.5 C773.0,308.6 774.0,307.8 775.4,306.6 C776.8,305.4 778.3,304.6 780.2,303.3 C782.1,302.0 784.5,300.4 786.9,298.9 C789.3,297.4 792.2,295.8 794.6,294.1 C797.0,292.4 799.3,290.3 801.4,288.8 C803.5,287.3 806.2,285.6 807.2,285.0" fill="none" stroke="#2e8ce4" stroke-width="3.70" stroke-linejoin="round" stroke-linecap="round" />
<line x1="747.5" y1="43.4" x2="828" y2="43.4" stroke="#0a0a0a" stroke-width="3.7"/>
<line x1="747.5" y1="86.2" x2="828" y2="86.2" stroke="#2e8ce4" stroke-width="3.6"/>
<text transform="translate(835.8,55.9) scale(0.99,1.03)" font-size="36" font-family="Liberation Sans, sans-serif" fill="#000" stroke="#fff" stroke-width="0.7">Pt/C - HUPD</text>
<text transform="translate(835.8,99.0) scale(0.99,1.03)" font-size="36" font-family="Liberation Sans, sans-serif" fill="#000" stroke="#fff" stroke-width="0.7">Pt/C - CO</text>
<text transform="translate(1180,67) scale(1.03,1.05)" font-size="43.5" font-weight="bold" font-family="Liberation Sans, sans-serif" fill="#000" stroke="#fff" stroke-width="0.9">(<tspan font-size="42">b</tspan>)</text>
<rect x="1048.1" y="287.7" width="59.3" height="59.7" fill="none" stroke="#dea451" stroke-width="2.6"/>
<rect x="864.6" y="122.7" width="179.8" height="145.7" fill="#fff" stroke="none"/>
<clipPath id="ic"><rect x="864.6" y="122.7" width="179.8" height="145.7"/></clipPath>
<g clip-path="url(#ic)">
<path d="M866.0,230.9 C869.0,230.3 877.1,228.9 884.1,227.3 C891.1,225.7 900.2,223.3 908.2,221.3 C916.2,219.3 924.2,217.8 932.3,215.2 C940.3,212.6 948.5,208.8 956.5,205.6 C964.5,202.4 973.4,198.6 980.6,196.0 C987.8,193.4 993.9,191.7 999.9,189.9 C1005.9,188.1 1009.5,186.7 1016.7,185.1 C1023.9,183.5 1038.9,181.1 1043.3,180.3" fill="none" stroke="#0a0a0a" stroke-width="3.90" stroke-linejoin="round" stroke-linecap="round" />
<path d="M866.0,246.6 C868.6,246.0 876.7,244.4 881.7,243.0 C886.7,241.6 891.8,240.6 896.2,238.2 C900.6,235.8 904.6,232.1 908.2,228.5 C911.8,224.9 914.3,221.3 917.9,216.5 C921.5,211.7 925.9,204.0 929.9,199.6 C933.9,195.2 938.4,191.9 942.0,189.9 C945.6,187.9 948.0,187.9 951.6,187.5 C955.2,187.1 959.3,188.9 963.7,187.5 C968.1,186.1 974.6,182.7 978.2,179.1 C981.8,175.5 983.2,170.8 985.4,165.8 C987.6,160.8 989.6,154.5 991.4,148.9 C993.2,143.3 995.0,136.3 996.2,132.1 C997.4,127.9 998.3,125.0 998.7,123.6" fill="none" stroke="#2e8ce4" stroke-width="3.70" stroke-linejoin="round" stroke-linecap="round" />
</g>
<rect x="864.6" y="122.7" width="179.8" height="145.7" fill="none" stroke="#dea451" stroke-width="2.8"/>
<g transform="translate(858.50,129.30) scale(1.000,1.060)"><text x="-30.58" y="0" font-size="22.00" font-family="Liberation Sans, sans-serif" fill="#45454f"> .2</text><path transform="translate(-30.58,0) scale(0.01074,-0.01074)" d="M763 0L583 0L583 1147Q518 1085 412.5 1023Q307 961 223 930L223 1104Q374 1175 487 1276Q600 1377 647 1472L763 1472Z" fill="#45454f"/></g>
<line x1="861.1" y1="122.7" x2="864.6" y2="122.7" stroke="#45454f" stroke-width="1.4"/>
<g transform="translate(858.50,177.90) scale(1.000,1.060)"><text x="-30.58" y="0" font-size="22.00" font-family="Liberation Sans, sans-serif" fill="#45454f">0.8</text></g>
<line x1="861.1" y1="171.3" x2="864.6" y2="171.3" stroke="#45454f" stroke-width="1.4"/>
<g transform="translate(858.50,226.50) scale(1.000,1.060)"><text x="-30.58" y="0" font-size="22.00" font-family="Liberation Sans, sans-serif" fill="#45454f">0.4</text></g>
<line x1="861.1" y1="219.9" x2="864.6" y2="219.9" stroke="#45454f" stroke-width="1.4"/>
<g transform="translate(858.50,275.00) scale(1.000,1.060)"><text x="-30.58" y="0" font-size="22.00" font-family="Liberation Sans, sans-serif" fill="#45454f">0.0</text></g>
<line x1="861.1" y1="268.4" x2="864.6" y2="268.4" stroke="#45454f" stroke-width="1.4"/>
<g transform="translate(893.60,290.60) scale(1.000,1.080)"><text x="-21.41" y="0" font-size="22.00" font-family="Liberation Sans, sans-serif" fill="#45454f">0.76</text></g>
<line x1="893.6" y1="268.4" x2="893.6" y2="271.9" stroke="#45454f" stroke-width="1.4"/>
<g transform="translate(953.20,290.60) scale(1.000,1.080)"><text x="-21.41" y="0" font-size="22.00" font-family="Liberation Sans, sans-serif" fill="#45454f">0.80</text></g>
<line x1="953.2" y1="268.4" x2="953.2" y2="271.9" stroke="#45454f" stroke-width="1.4"/>
<g transform="translate(1012.80,290.60) scale(1.000,1.080)"><text x="-21.41" y="0" font-size="22.00" font-family="Liberation Sans, sans-serif" fill="#45454f">0.84</text></g>
<line x1="1012.8" y1="268.4" x2="1012.8" y2="271.9" stroke="#45454f" stroke-width="1.4"/>
</svg>
</body></html>
